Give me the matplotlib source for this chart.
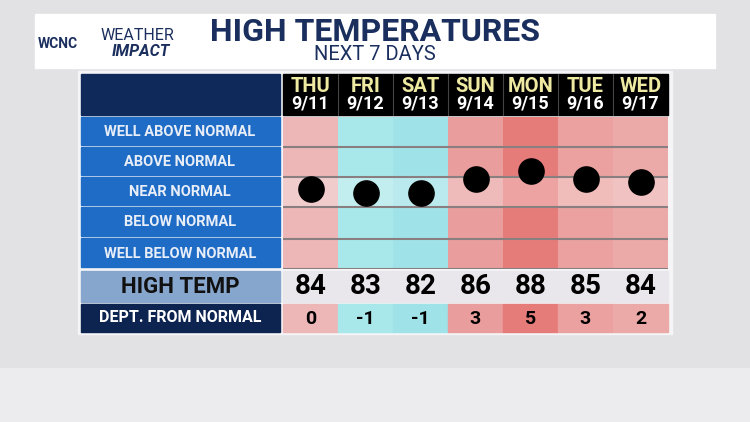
import matplotlib.pyplot as plt
from matplotlib.patches import Rectangle

days = ['THU', 'FRI', 'SAT', 'SUN', 'MON', 'TUE', 'WED']
dates = ['9/11', '9/12', '9/13', '9/14', '9/15', '9/16', '9/17']
high_temp = [84, 83, 82, 86, 88, 85, 84]
departure = [0, -1, -1, 3, 5, 3, 2]
rows = ['WELL ABOVE NORMAL', 'ABOVE NORMAL', 'NEAR NORMAL',
        'BELOW NORMAL', 'WELL BELOW NORMAL']
col_colors = ['#ecb7b6', '#a8e8ea', '#9fe2e8', '#e99e9d', '#e67c7a', '#eaa19f', '#eba9a8']

W, H = 750, 422
fig = plt.figure(figsize=(W / 100, H / 100), dpi=100)
bg = fig.add_axes([0, 0, 1, 1])
bg.set_xlim(0, W)
bg.set_ylim(H, 0)
bg.axis('off')
bg.add_patch(Rectangle((0, 0), W, H, color='#e2e2e4'))
bg.add_patch(Rectangle((0, 368), W, 60, color='#ececee'))

# title box
bg.add_patch(Rectangle((35, 14), 680, 54, color='white'))
bg.text(375, 32, 'HIGH TEMPERATURES', ha='center', va='center', fontsize=23,
        fontweight='bold', color='#1b2f5e', family='Roboto')
bg.text(375, 55, 'NEXT 7 DAYS', ha='center', va='center', fontsize=14.5,
        color='#1b2f5e', family='Roboto')
bg.text(38, 44, 'WCNC', ha='left', va='center', fontsize=10, fontweight='bold',
        color='#1b2f5e', family='Roboto')
bg.text(101, 36, 'WEATHER', ha='left', va='center', fontsize=11.5,
        color='#1b2f5e', family='Roboto')
bg.text(112, 51, 'IMPACT', ha='left', va='center', fontsize=11.5, style='italic',
        fontweight='bold', color='#1b2f5e', family='Roboto')

# table frame
bg.add_patch(Rectangle((78, 71), 594, 263, color='#f5f5f7'))
bg.add_patch(Rectangle((81, 74), 199, 41, color='#0f2a5a'))
bg.add_patch(Rectangle((283, 74), 385, 41, color='black'))

x0, cw = 283, 55
row_top = [117, 147, 177, 207, 238]
row_h = [28, 28, 28, 29, 29]
for i, r in enumerate(rows):
    bg.add_patch(Rectangle((81, row_top[i]), 199, row_h[i], color='#1f6cc6'))
    bg.text(180, row_top[i] + row_h[i] / 2 + 1, r, ha='center', va='center',
            fontsize=10.5, fontweight='bold', color='#e8eef8', family='Roboto')

bg.add_patch(Rectangle((81, 271), 199, 31, color='#86a6cd'))
bg.text(180, 287, 'HIGH TEMP', ha='center', va='center', fontsize=16,
        fontweight='bold', color='#111', family='Roboto')
bg.add_patch(Rectangle((81, 304), 199, 28, color='#0d2350'))
bg.text(180, 318, 'DEPT. FROM NORMAL', ha='center', va='center', fontsize=11.5,
        fontweight='bold', color='white', family='Roboto')
bg.add_patch(Rectangle((283, 271), 385, 31, color='#e9e7ec'))

for j in range(7):
    cx = x0 + cw * (j + 0.5)
    bg.text(cx, 86, days[j], ha='center', va='center', fontsize=14.5,
            fontweight='bold', color='#eeeaa2', family='Roboto')
    bg.text(cx, 104, dates[j], ha='center', va='center', fontsize=13,
            fontweight='bold', color='white', family='Roboto')
    if j:
        bg.plot([x0 + cw * j] * 2, [74, 115], color='#444', lw=0.8)
    bg.text(cx, 287, str(high_temp[j]), ha='center', va='center', fontsize=20,
            fontweight='bold', color='black', family='Roboto')
    bg.add_patch(Rectangle((x0 + cw * j, 304), cw, 28, color=col_colors[j]))
    bg.text(cx, 319, str(departure[j]), ha='center', va='center', fontsize=14,
            fontweight='bold', color='black', family='Roboto')

# departure grid: y in degrees from normal
ax = fig.add_axes([x0 / W, 1 - 269 / H, 385 / W, 152 / H])
ax.set_xlim(-0.5, 6.5)
ax.set_ylim(-22, 20)
ax.axis('off')
for j in range(7):
    ax.axvspan(j - 0.5, j + 0.5, color=col_colors[j], lw=0)
ax.axhspan(-5, 3.3, color='white', alpha=0.3, lw=0)
for yb in [11.7, 3.3, -5, -13.6, -22]:
    ax.axhline(yb, color='#8a7f80', lw=1.5)
ax.scatter(range(7), departure, s=330, color='black', zorder=5)

fig.savefig('out.png', dpi=100)
